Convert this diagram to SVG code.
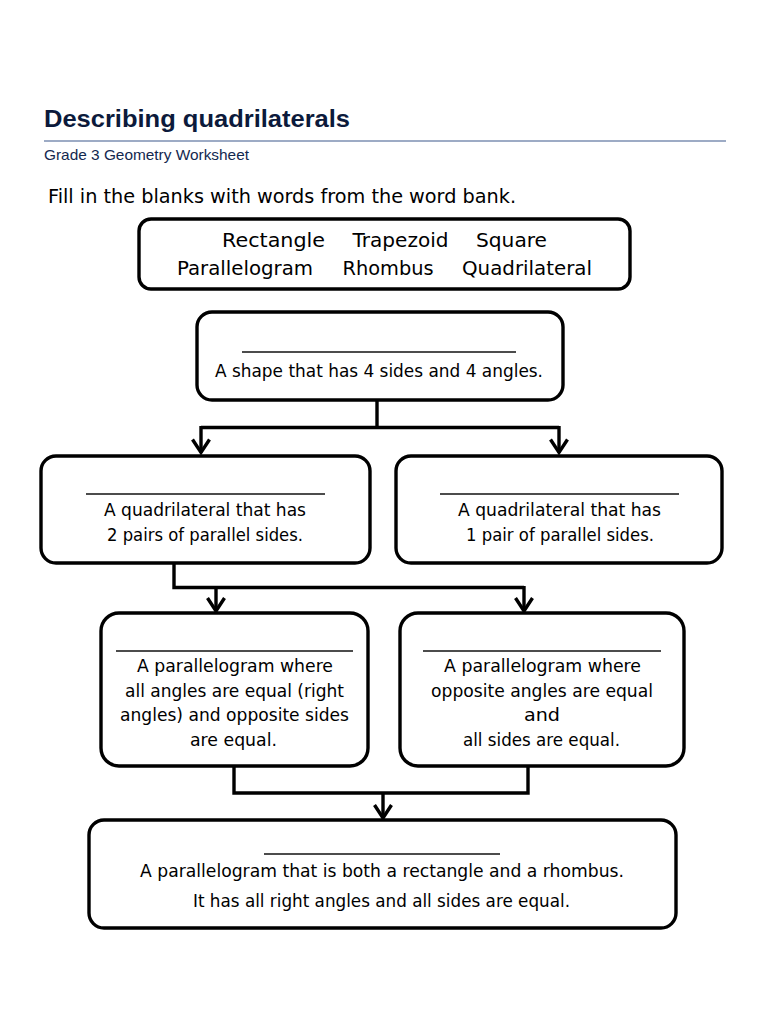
<svg xmlns="http://www.w3.org/2000/svg" width="768" height="1024" viewBox="0 0 768 1024">
  <style>
    .box { fill: #ffffff; stroke: #000000; stroke-width: 3.4; }
    .blank { stroke: #111111; stroke-width: 1.5; }
    .conn { fill: none; stroke: #000000; stroke-width: 3.4; stroke-linejoin: miter; }
    .t { font-family: "DejaVu Sans", "Liberation Sans", sans-serif; font-size: 17px; fill: #000000; text-anchor: middle; }
    .wb { font-family: "DejaVu Sans", "Liberation Sans", sans-serif; font-size: 19.5px; fill: #000000; text-anchor: middle; }
    .title { font-family: "Liberation Sans", Arial, sans-serif; font-weight: bold; font-size: 24px; fill: #0c1a3b; }
    .sub { font-family: "Liberation Sans", Arial, sans-serif; font-size: 15px; fill: #13284f; }
    .instr { font-family: "DejaVu Sans", "Liberation Sans", sans-serif; font-size: 20px; fill: #000000; }
  </style>
  <defs>
    <marker id="arr" markerUnits="userSpaceOnUse" viewBox="-16 -12 19 24" refX="0" refY="0" markerWidth="19" markerHeight="24" orient="auto">
      <path d="M-13,-8.5 L0,0 L-13,8.5" fill="none" stroke="#000000" stroke-width="3.4"/>
    </marker>
  </defs>
  <rect width="768" height="1024" fill="#ffffff"/>

  <g id="header">
    <text class="title" x="44" y="127" textLength="306" lengthAdjust="spacingAndGlyphs">Describing quadrilaterals</text>
    <line x1="44" y1="141" x2="726" y2="141" stroke="#7d8fb2" stroke-width="1.5"/>
    <text class="sub" x="44" y="160" textLength="205" lengthAdjust="spacingAndGlyphs">Grade 3 Geometry Worksheet</text>
    <text class="instr" x="48" y="203" textLength="468" lengthAdjust="spacingAndGlyphs">Fill in the blanks with words from the word bank.</text>
  </g>

  <g id="word-bank">
    <rect class="box" x="139" y="219" width="491" height="70" rx="12"/>
    <text class="wb" x="273.5" y="247" textLength="103" lengthAdjust="spacingAndGlyphs">Rectangle</text>
    <text class="wb" x="400.5" y="247" textLength="96" lengthAdjust="spacingAndGlyphs">Trapezoid</text>
    <text class="wb" x="511.5" y="247" textLength="71" lengthAdjust="spacingAndGlyphs">Square</text>
    <text class="wb" x="245" y="275" textLength="136" lengthAdjust="spacingAndGlyphs">Parallelogram</text>
    <text class="wb" x="388" y="275" textLength="91" lengthAdjust="spacingAndGlyphs">Rhombus</text>
    <text class="wb" x="527" y="275" textLength="130" lengthAdjust="spacingAndGlyphs">Quadrilateral</text>
  </g>

  <g id="connectors">
    <path class="conn" d="M377,400 V427.5 M201,427.5 H559"/>
    <path class="conn" d="M201,426 V452.5" marker-end="url(#arr)"/>
    <path class="conn" d="M559,426 V452.5" marker-end="url(#arr)"/>
    <path class="conn" d="M174,563 V587.5 H524"/>
    <path class="conn" d="M216,587.5 V611" marker-end="url(#arr)"/>
    <path class="conn" d="M524,586 V611" marker-end="url(#arr)"/>
    <path class="conn" d="M234,766 V793 H528 V766"/>
    <path class="conn" d="M383,793 V818" marker-end="url(#arr)"/>
  </g>

  <g id="node-quadrilateral">
    <rect class="box" x="197" y="312" width="366" height="88" rx="15"/>
    <line class="blank" x1="242" y1="352" x2="516" y2="352"/>
    <text class="t" x="379" y="377" textLength="328" lengthAdjust="spacingAndGlyphs">A shape that has 4 sides and 4 angles.</text>
  </g>

  <g id="node-parallelogram">
    <rect class="box" x="41" y="456" width="329" height="107" rx="15"/>
    <line class="blank" x1="86" y1="494" x2="325" y2="494"/>
    <text class="t" x="205" y="516" textLength="202" lengthAdjust="spacingAndGlyphs">A quadrilateral that has</text>
    <text class="t" x="205" y="541" textLength="196" lengthAdjust="spacingAndGlyphs">2 pairs of parallel sides.</text>
  </g>

  <g id="node-trapezoid">
    <rect class="box" x="396" y="456" width="326" height="107" rx="15"/>
    <line class="blank" x1="440" y1="494" x2="679" y2="494"/>
    <text class="t" x="559.5" y="516" textLength="203" lengthAdjust="spacingAndGlyphs">A quadrilateral that has</text>
    <text class="t" x="560" y="541" textLength="188" lengthAdjust="spacingAndGlyphs">1 pair of parallel sides.</text>
  </g>

  <g id="node-rectangle">
    <rect class="box" x="101" y="613" width="267" height="153" rx="18"/>
    <line class="blank" x1="116" y1="651" x2="353" y2="651"/>
    <text class="t" x="235" y="672" textLength="196" lengthAdjust="spacingAndGlyphs">A parallelogram where</text>
    <text class="t" x="234.5" y="697" textLength="219" lengthAdjust="spacingAndGlyphs">all angles are equal (right</text>
    <text class="t" x="234.5" y="721" textLength="229" lengthAdjust="spacingAndGlyphs">angles) and opposite sides</text>
    <text class="t" x="233.5" y="746" textLength="87" lengthAdjust="spacingAndGlyphs">are equal.</text>
  </g>

  <g id="node-rhombus">
    <rect class="box" x="400" y="613" width="284" height="153" rx="18"/>
    <line class="blank" x1="423" y1="651" x2="661" y2="651"/>
    <text class="t" x="542.5" y="672" textLength="197" lengthAdjust="spacingAndGlyphs">A parallelogram where</text>
    <text class="t" x="542" y="697" textLength="222" lengthAdjust="spacingAndGlyphs">opposite angles are equal</text>
    <text class="t" x="542" y="721" textLength="36" lengthAdjust="spacingAndGlyphs">and</text>
    <text class="t" x="541.5" y="746" textLength="157" lengthAdjust="spacingAndGlyphs">all sides are equal.</text>
  </g>

  <g id="node-square">
    <rect class="box" x="89" y="820" width="587" height="108" rx="15"/>
    <line class="blank" x1="264" y1="854" x2="500" y2="854"/>
    <text class="t" x="382" y="877" textLength="484" lengthAdjust="spacingAndGlyphs">A parallelogram that is both a rectangle and a rhombus.</text>
    <text class="t" x="381.5" y="907" textLength="377" lengthAdjust="spacingAndGlyphs">It has all right angles and all sides are equal.</text>
  </g>
</svg>
